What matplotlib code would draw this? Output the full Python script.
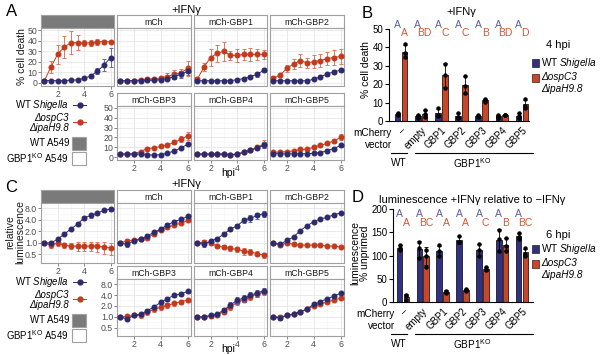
import numpy as np
import matplotlib
matplotlib.use('Agg')
import matplotlib.pyplot as plt
from matplotlib.patches import Rectangle
from matplotlib.lines import Line2D

plt.rcParams['font.family'] = ['Liberation Sans', 'DejaVu Sans']
plt.rcParams['mathtext.fontset'] = 'custom'
plt.rcParams['mathtext.rm'] = 'Liberation Sans'
plt.rcParams['mathtext.it'] = 'Liberation Sans:italic'

# ---- data ----
hpi = [1, 1.5, 2, 2.5, 3, 3.5, 4, 4.5, 5, 5.5, 6]
facets = ['mCh', 'mCh-GBP1', 'mCh-GBP2', 'mCh-GBP3', 'mCh-GBP4', 'mCh-GBP5']

death_wt = {
    'WT A549': [2.1, 2.1, 2.1, 2.1, 2.5, 2.8, 4.3, 6.5, 11, 17, 24],
    'mCh': [2, 2, 2, 2, 2.5, 2.5, 3, 4, 6, 8, 11],
    'mCh-GBP1': [2, 2, 2, 2, 2, 2, 3, 4, 6, 8, 12],
    'mCh-GBP2': [2, 2, 2, 2, 2, 2, 3.4, 5.9, 8.3, 10.5, 12],
    'mCh-GBP3': [3.1, 3.1, 3.1, 3.1, 2.5, 1.9, 2.5, 4, 6.2, 9.3, 13],
    'mCh-GBP4': [3, 3, 3, 3, 3, 2.5, 3, 5, 7, 9, 12],
    'mCh-GBP5': [3.4, 3.4, 3.1, 3.4, 3.4, 3.4, 3.7, 4.6, 6.5, 8.7, 11.8],
}
death_wt_sd = {
    'WT A549': [1, 1, 0.5, 0.5, 0.5, 0.5, 1, 1.5, 3, 6, 9],
    'mCh': [1.5, 1, 1, 1, 1, 1, 1, 1.5, 2, 3, 4],
    'mCh-GBP1': [1, 1, 1, 1, 1, 1, 1, 1, 1.5, 2, 2],
    'mCh-GBP2': [1, 1, 1, 1, 1, 1, 1, 1, 1.5, 2, 2],
    'mCh-GBP3': [1, 1, 1, 1, 1, 1, 1, 1, 1, 1, 1],
    'mCh-GBP4': [1, 1, 1, 1, 1, 1, 1, 1, 1.5, 2, 3],
    'mCh-GBP5': [1, 1, 2, 1, 1, 1, 1, 1, 1.5, 1.5, 2],
}
death_mut = {
    'WT A549': [2, 15, 27, 34, 38, 38, 37.7, 38, 39, 39, 39],
    'mCh': [2, 2, 2, 3, 3.5, 4, 4.5, 6, 8, 9.5, 13.6],
    'mCh-GBP1': [3.5, 15, 24, 28, 30, 26, 26, 27, 27, 27, 27],
    'mCh-GBP2': [4.3, 7.4, 13.6, 18, 21, 19, 20, 21, 23, 24, 25],
    'mCh-GBP3': [3.1, 3.1, 3.4, 5.6, 8.7, 9.3, 10.9, 12.4, 14.9, 18, 21.7],
    'mCh-GBP4': [3, 3, 3, 3, 3, 2.5, 3, 5, 7, 10, 13],
    'mCh-GBP5': [5, 5, 5.6, 6.2, 7.8, 7.8, 10.2, 11.8, 14, 16.4, 20],
}
death_mut_sd = {
    'WT A549': [1.5, 6, 9, 10, 11, 7, 3, 3, 3, 2, 1],
    'mCh': [1, 1, 1, 1, 1.5, 1.5, 2, 3, 4, 4, 7],
    'mCh-GBP1': [2, 4, 8, 8, 9, 4, 6, 5, 6, 5, 4],
    'mCh-GBP2': [2, 2, 3, 5, 6, 5, 6, 6, 6, 7, 7],
    'mCh-GBP3': [1, 1, 1, 1, 1.5, 1, 1, 1.5, 2, 3, 4],
    'mCh-GBP4': [1, 1, 1, 1, 1, 1, 1, 1, 1.5, 2, 4],
    'mCh-GBP5': [1, 1, 1, 1, 1.5, 1.5, 2, 1.5, 1.5, 2, 3],
}

lum_wt = {
    'WT A549': [1.0, 1.0, 1.25, 1.7, 2.3, 3.1, 4.5, 5.2, 6.0, 7.1, 7.6],
    'mCh': [1.0, 0.92, 1.13, 1.25, 1.53, 1.88, 2.3, 2.95, 3.6, 4.1, 4.9],
    'mCh-GBP1': [1.0, 0.92, 1.13, 1.3, 1.7, 2.3, 2.8, 3.85, 4.4, 5.2, 5.8],
    'mCh-GBP2': [1.0, 0.92, 1.16, 1.43, 2.1, 2.8, 3.6, 4.2, 4.7, 5.4, 6.1],
    'mCh-GBP3': [1.0, 0.88, 1.1, 1.2, 1.47, 1.9, 2.5, 3.2, 3.9, 4.3, 5.0],
    'mCh-GBP4': [1.0, 1.0, 1.1, 1.2, 1.55, 2.1, 2.9, 3.3, 4.0, 4.5, 5.3],
    'mCh-GBP5': [1.0, 0.95, 1.1, 1.2, 1.4, 1.65, 2.25, 2.6, 3.2, 3.7, 4.5],
}
lum_wt_sd = {
    'WT A549': [0.03, 0.1, 0.1, 0.1, 0.15, 0.4, 0.5, 0.6, 0.6, 0.6, 0.6],
    'mCh': [0.03, 0.12, 0.08, 0.08, 0.12, 0.2, 0.25, 0.3, 0.3, 0.35, 0.4],
    'mCh-GBP1': [0.03, 0.15, 0.08, 0.1, 0.2, 0.3, 0.4, 0.6, 0.8, 0.9, 1.0],
    'mCh-GBP2': [0.03, 0.08, 0.05, 0.05, 0.08, 0.1, 0.1, 0.1, 0.1, 0.15, 0.2],
    'mCh-GBP3': [0.03, 0.12, 0.1, 0.1, 0.15, 0.25, 0.3, 0.4, 0.4, 0.5, 0.5],
    'mCh-GBP4': [0.03, 0.12, 0.08, 0.1, 0.25, 0.4, 0.6, 0.7, 0.8, 0.9, 1.1],
    'mCh-GBP5': [0.03, 0.15, 0.1, 0.05, 0.08, 0.1, 0.15, 0.15, 0.15, 0.2, 0.2],
}
lum_mut = {
    'WT A549': [1.0, 0.87, 1.0, 0.87, 0.83, 0.83, 0.83, 0.83, 0.82, 0.78, 0.74],
    'mCh': [1.0, 1.13, 1.2, 1.25, 1.38, 1.7, 2.2, 2.55, 2.95, 3.25, 3.85],
    'mCh-GBP1': [1.0, 1.04, 1.0, 0.83, 0.78, 0.72, 0.68, 0.61, 0.58, 0.53, 0.48],
    'mCh-GBP2': [1.0, 0.88, 1.0, 0.92, 0.88, 0.88, 0.88, 0.88, 0.83, 0.83, 0.78],
    'mCh-GBP3': [1.0, 1.04, 1.1, 1.1, 1.36, 1.63, 1.84, 2.1, 2.35, 2.6, 2.9],
    'mCh-GBP4': [1.0, 1.0, 1.08, 1.15, 1.4, 1.9, 2.5, 3.0, 3.6, 4.2, 4.8],
    'mCh-GBP5': [1.0, 1.0, 1.1, 1.2, 1.36, 1.65, 2.0, 2.25, 2.6, 2.9, 3.3],
}
lum_mut_sd = {
    'WT A549': [0.03, 0.12, 0.15, 0.15, 0.15, 0.2, 0.2, 0.2, 0.25, 0.25, 0.25],
    'mCh': [0.03, 0.1, 0.1, 0.1, 0.15, 0.2, 0.2, 0.2, 0.2, 0.2, 0.15],
    'mCh-GBP1': [0.03, 0.15, 0.1, 0.1, 0.1, 0.12, 0.1, 0.12, 0.1, 0.08, 0.08],
    'mCh-GBP2': [0.03, 0.1, 0.05, 0.05, 0.05, 0.05, 0.05, 0.05, 0.05, 0.05, 0.05],
    'mCh-GBP3': [0.03, 0.1, 0.1, 0.15, 0.2, 0.3, 0.3, 0.3, 0.3, 0.3, 0.3],
    'mCh-GBP4': [0.03, 0.1, 0.08, 0.1, 0.2, 0.3, 0.4, 0.5, 0.6, 0.7, 0.8],
    'mCh-GBP5': [0.03, 0.1, 0.05, 0.05, 0.08, 0.1, 0.1, 0.1, 0.1, 0.1, 0.1],
}

groups = ['\u2013', 'empty', 'GBP1', 'GBP2', 'GBP3', 'GBP4', 'GBP5']

# B: % cell death at 4 hpi
b_wt = [3.8, 2.5, 4.3, 2.7, 2.7, 2.5, 2.8]
b_wt_sd = [0.7, 1.0, 2.3, 1.6, 0.8, 1.0, 1.5]
b_wt_reps = [[3.0, 4.0, 4.5], [1.5, 2.5, 3.5], [2.5, 3.5, 7.0], [1.5, 2.0, 4.5],
             [2.0, 2.5, 3.5], [1.5, 2.5, 3.5], [1.5, 2.5, 4.5]]
b_mut = [37.7, 4.0, 25.0, 19.6, 11.4, 3.3, 9.0]
b_mut_sd = [3.5, 2.0, 6.5, 4.8, 0.8, 0.4, 2.6]
b_mut_reps = [[35, 37, 42], [2, 4, 6], [18, 25, 31], [15, 19, 24.5],
              [10.5, 11.5, 12], [3, 3.5, 3.5], [7, 8, 12]]
b_letters_wt = ['A', 'A', 'A', 'A', 'A', 'A', 'A']
b_letters_mut = ['A', 'BD', 'C', 'C', 'B', 'BD', 'D']

# D: luminescence +IFNg relative to -IFNg, 6 hpi
d_wt = [117, 114, 110, 133, 112, 133, 142]
d_wt_sd = [5, 18, 11, 8, 13, 25, 7]
d_wt_reps = [[112, 117, 122], [95, 117, 130], [100, 110, 122], [128, 130, 142],
             [98, 112, 125], [110, 135, 155], [135, 140, 148]]
d_mut = [11.5, 99, 22, 26, 71, 123, 107]
d_mut_sd = [5, 19, 3, 2, 4, 14, 8]
d_mut_reps = [[5, 12, 15], [75, 100, 112], [19, 21, 24], [24, 26, 27],
              [68, 70, 76], [110, 120, 137], [100, 104, 116]]
d_letters_wt = ['A', 'A', 'A', 'A', 'A', 'A', 'A']
d_letters_mut = ['A', 'BC', 'A', 'A', 'C', 'B', 'BC']

# ---- styling ----
BLUE = '#2d2a6e'
RED = '#c23b1d'
BLUE_E = '#6b68a8'
RED_E = '#db7a5e'
BAR_BLUE = '#33307f'
BAR_RED = '#c9462a'
LET_BLUE = '#5d5ca8'
LET_RED = '#d85532'
GRAY_TXT = '#4d4d4d'

W, H = 600, 355
fig = plt.figure(figsize=(6, 3.55), dpi=100)


def box(l, t, r, b):
    return [l / W, 1 - b / H, (r - l) / W, (b - t) / H]


def ftext(x, y, s, **kw):
    kw.setdefault('va', 'center')
    return fig.text(x / W, 1 - y / H, s, **kw)


def fline(x0, x1, y0, y1, **kw):
    fig.add_artist(Line2D([x0 / W, x1 / W], [1 - y0 / H, 1 - y1 / H],
                          transform=fig.transFigure, **kw))


def frect(l, t, r, b, **kw):
    fig.add_artist(Rectangle((l / W, 1 - b / H), (r - l) / W, (b - t) / H,
                             transform=fig.transFigure, **kw))


def facet(l, t, r, b, title, wt, wt_sd, mut, mut_sd, log=False,
          xlab=False, ylab=False, dark=False):
    sax = fig.add_axes(box(l, t - 13, r, t))
    sax.set_xticks([])
    sax.set_yticks([])
    sax.set_facecolor('#7a7a7a' if dark else 'white')
    for sp in sax.spines.values():
        sp.set_color('#a0a0a0')
        sp.set_linewidth(0.8)
    if title:
        sax.text(0.5, 0.42, title, ha='center', va='center', fontsize=6.3,
                 color='#1a1a1a', transform=sax.transAxes)

    ax = fig.add_axes(box(l, t, r, b))
    for sp in ax.spines.values():
        sp.set_color('#a0a0a0')
        sp.set_linewidth(0.8)
    ax.errorbar(hpi, mut, yerr=mut_sd, color=RED, ecolor=RED_E, lw=0.7,
                marker='o', ms=3.3, elinewidth=0.7, capsize=1.5, capthick=0.7, zorder=3)
    ax.errorbar(hpi, wt, yerr=wt_sd, color=BLUE, ecolor=BLUE_E, lw=0.7,
                marker='o', ms=3.3, elinewidth=0.7, capsize=1.5, capthick=0.7, zorder=4)
    ax.set_xlim(0.75, 6.25)
    ax.set_xticks([2, 4, 6])
    ax.set_xticks([1, 3, 5], minor=True)
    if log:
        ax.set_yscale('log', base=2)
        ax.set_ylim(0.3, 11)
        ax.set_yticks([0.5, 1, 2, 4, 8])
        ax.set_yticklabels(['0.5', '1.0', '2.0', '4.0', '8.0'])
        ax.set_yticks([0.707, 1.414, 2.828, 5.657], minor=True)
        ax.yaxis.set_minor_formatter(plt.NullFormatter())
    else:
        ax.set_ylim(-3, 52)
        ax.set_yticks([0, 10, 20, 30, 40, 50])
        ax.set_yticks([5, 15, 25, 35, 45], minor=True)
    ax.grid(True, which='major', color='#e6e6e6', lw=0.6)
    ax.grid(True, which='minor', color='#f3f3f3', lw=0.4)
    ax.set_axisbelow(True)
    ax.tick_params(which='major', length=2, width=0.5, color='#555555',
                   labelsize=6.3, labelcolor=GRAY_TXT, pad=0.8)
    ax.tick_params(which='minor', length=0)
    if not xlab:
        ax.tick_params(axis='x', which='major', length=0, labelbottom=False)
    if not ylab:
        ax.tick_params(axis='y', which='major', length=0, labelleft=False)
    return ax


cols = [(117, 191), (194, 267), (270, 344)]

# ---- panel A ----
facet(41, 28, 114, 86, '', death_wt['WT A549'], death_wt_sd['WT A549'],
      death_mut['WT A549'], death_mut_sd['WT A549'], xlab=True, ylab=True, dark=True)
for i, name in enumerate(facets):
    l, r = cols[i % 3]
    t, b = (28, 86) if i < 3 else (106, 160)
    facet(l, t, r, b, name, death_wt[name], death_wt_sd[name],
          death_mut[name], death_mut_sd[name], xlab=i >= 3, ylab=i == 3)

# ---- panel C ----
facet(41, 203, 114, 263, '', lum_wt['WT A549'], lum_wt_sd['WT A549'],
      lum_mut['WT A549'], lum_mut_sd['WT A549'], log=True, xlab=True, ylab=True, dark=True)
for i, name in enumerate(facets):
    l, r = cols[i % 3]
    t, b = (203, 263) if i < 3 else (279, 336)
    facet(l, t, r, b, name, lum_wt[name], lum_wt_sd[name],
          lum_mut[name], lum_mut_sd[name], log=True, xlab=i >= 3, ylab=i == 3)

# left-hand legends and labels for A and C
for y0, ylabel, lx, ly in [(2, '% cell death', 22, 57), (179, 'relative\nluminescence', 15, 232)]:
    ftext(lx, ly, ylabel, rotation=90, ha='center',
          fontsize=7.5, color='#1a1a1a', linespacing=1.0)
    ftext(69, y0 + 103, 'WT $\\mathit{Shigella}$', ha='right', fontsize=6.9)
    fline(73, 86, y0 + 103, y0 + 103, color=BLUE, lw=0.7)
    fig.add_artist(Line2D([79.5 / W], [1 - (y0 + 103) / H], transform=fig.transFigure,
                          marker='o', ms=3.5, color=BLUE))
    ftext(69, y0 + 116, '\u0394ospC3', ha='right', fontsize=6.9, style='italic')
    ftext(69, y0 + 126, '\u0394ipaH9.8', ha='right', fontsize=6.9, style='italic')
    fline(73, 86, y0 + 120, y0 + 120, color=RED, lw=0.7)
    fig.add_artist(Line2D([79.5 / W], [1 - (y0 + 120) / H], transform=fig.transFigure,
                          marker='o', ms=3.5, color=RED))
    ftext(69, y0 + 141, 'WT A549', ha='right', fontsize=6.9)
    frect(72, y0 + 135, 86, y0 + 148, facecolor='#7a7a7a', edgecolor='#a0a0a0', lw=0.8)
    ftext(69, y0 + 156, 'GBP1$^{\\mathrm{KO}}$ A549', ha='right', fontsize=6.9)
    frect(72, y0 + 150, 86, y0 + 163, facecolor='white', edgecolor='#a0a0a0', lw=0.8)

ftext(186, 10, '+IFN\u03b3', ha='center', fontsize=8)
ftext(186, 184, '+IFN\u03b3', ha='center', fontsize=8)
ftext(228, 173, 'hpi', ha='center', fontsize=7.5)
ftext(228, 349, 'hpi', ha='center', fontsize=7.5)

# ---- bar panels B and D ----
def bar_panel(rect, ylim, yticks, wt, wt_sd, wt_reps, mut, mut_sd, mut_reps,
              let_wt, let_mut, let_y, xlim):
    ax = fig.add_axes(box(*rect))
    x = np.arange(len(groups))
    off, bw = 0.17, 0.28
    for xs, m, sd, reps, col in [(x - off, wt, wt_sd, wt_reps, BAR_BLUE),
                                 (x + off, mut, mut_sd, mut_reps, BAR_RED)]:
        ax.bar(xs, m, width=bw, color=col, edgecolor='black', lw=0.5, zorder=2)
        ax.errorbar(xs, m, yerr=sd, fmt='none', ecolor='black', elinewidth=0.6,
                    capsize=1.5, capthick=0.6, zorder=3)
        for xi, rr in zip(xs, reps):
            ax.plot([xi] * len(rr), rr, 'o', color='black', ms=2.2, zorder=4, clip_on=False)
    for xi, s in zip(x - off, let_wt):
        ax.text(xi, let_y[0], s, color=LET_BLUE, fontsize=7.5, ha='center', va='center',
                transform=ax.get_xaxis_transform(), clip_on=False)
    for xi, s in zip(x + off, let_mut):
        ax.text(xi, let_y[1], s, color=LET_RED, fontsize=7.5, ha='center', va='center',
                transform=ax.get_xaxis_transform(), clip_on=False)
    ax.set_xlim(*xlim)
    ax.set_ylim(*ylim)
    ax.set_yticks(yticks)
    ax.set_xticks(x)
    ax.set_xticklabels(groups, rotation=45, ha='right', rotation_mode='anchor')
    ax.spines['top'].set_visible(False)
    ax.spines['right'].set_visible(False)
    for sp in ['left', 'bottom']:
        ax.spines[sp].set_linewidth(0.8)
    ax.tick_params(axis='y', length=3, width=0.8, labelsize=7, pad=1)
    ax.tick_params(axis='x', length=0, labelsize=7, pad=3)
    return ax


bar_panel((389, 29, 529, 121), (0, 50), [0, 10, 20, 30, 40, 50],
          b_wt, b_wt_sd, b_wt_reps, b_mut, b_mut_sd, b_mut_reps,
          b_letters_wt, b_letters_mut, (1.045, 0.955), (-0.6, 6.35))
bar_panel((393, 209, 533, 302), (0, 200), [0, 50, 100, 150, 200],
          d_wt, d_wt_sd, d_wt_reps, d_mut, d_mut_sd, d_mut_reps,
          d_letters_wt, d_letters_mut, (0.946, 0.849), (-0.5, 6.55))

ftext(366, 70, '% cell death', rotation=90, ha='center', fontsize=7.5)
ftext(360, 253, 'luminescence\n% unprimed', rotation=90, ha='center', fontsize=7.5,
      linespacing=1.0)
ftext(461, 12, '+IFN\u03b3', ha='center', fontsize=8)
ftext(472, 200, 'luminescence +IFN\u03b3 relative to \u2212IFN\u03b3', ha='center', fontsize=8)
ftext(558, 45, '4 hpi', ha='center', fontsize=8)
ftext(558, 235, '6 hpi', ha='center', fontsize=8)

for y0 in [0, 186]:
    frect(532, y0 + 59, 539, y0 + 67, facecolor=BAR_BLUE, edgecolor='black', lw=0.4)
    ftext(541, y0 + 63, 'WT $\\mathit{Shigella}$', ha='left', fontsize=7.2)
    frect(532, y0 + 74, 539, y0 + 82, facecolor=BAR_RED, edgecolor='black', lw=0.4)
    ftext(541, y0 + 77, '\u0394ospC3', ha='left', fontsize=7.2, style='italic')
    ftext(541, y0 + 89, '\u0394ipaH9.8', ha='left', fontsize=7.2, style='italic')

for y0, xl in [(0, 392), (181, 395)]:
    ftext(xl, y0 + 133, 'mCherry', ha='right', fontsize=7.2)
    ftext(xl, y0 + 145, 'vector', ha='right', fontsize=7.2)
    fline(391, 407, y0 + 153, y0 + 153, color='black', lw=0.8)
    fline(415, 533, y0 + 153, y0 + 153, color='black', lw=0.8)
    ftext(399, y0 + 163, 'WT', ha='center', fontsize=7.2)
    ftext(472, y0 + 163, 'GBP1$^{\\mathrm{KO}}$', ha='center', fontsize=7.2)

# panel letters
ftext(12, 12, 'A', fontsize=12, ha='center')
ftext(367, 13, 'B', fontsize=12, ha='center')
ftext(11, 188, 'C', fontsize=12, ha='center')
ftext(358, 198, 'D', fontsize=12, ha='center')

fig.savefig('out.png', dpi=100)
